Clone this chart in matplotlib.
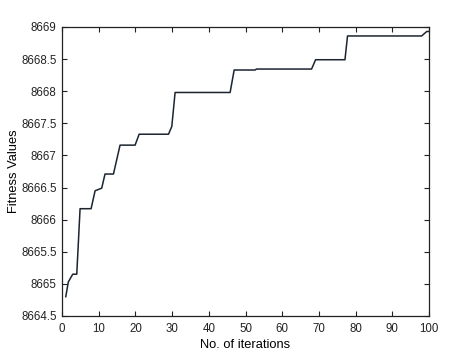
import matplotlib
matplotlib.use('Agg')

import matplotlib.pyplot as plt

# convergence curve (breakpoints of the step curve)
iterations = [1, 1.7, 2.9, 4.0, 4.9, 7.9, 9.0, 10.8, 11.7, 14.0, 15.8, 19.9,
              21.0, 29.0, 29.9, 30.8, 45.8, 46.9, 52.6, 53.0, 68.0, 69.1,
              77.1, 77.8, 98.0, 99.4, 100]
fitness = [8664.80, 8665.03, 8665.15, 8665.15, 8666.17, 8666.17, 8666.45,
           8666.49, 8666.71, 8666.71, 8667.16, 8667.16, 8667.33, 8667.33,
           8667.45, 8667.98, 8667.98, 8668.33, 8668.33, 8668.345, 8668.345,
           8668.49, 8668.49, 8668.86, 8668.86, 8668.93, 8668.93]

x_ticks = [0, 10, 20, 30, 40, 50, 60, 70, 80, 90, 100]
y_ticks = [8664.5, 8665, 8665.5, 8666, 8666.5, 8667, 8667.5, 8668, 8668.5, 8669]
y_tick_labels = ['8664.5', '8665', '8665.5', '8666', '8666.5', '8667',
                 '8667.5', '8668', '8668.5', '8669']

plt.rcParams['font.family'] = ['Liberation Sans', 'DejaVu Sans']

fig = plt.figure(figsize=(4.74, 3.55), dpi=100)
ax = fig.add_axes([0.131, 0.110, 0.774, 0.814])

ax.plot(iterations, fitness, color='#1c2430', linewidth=1.1)

ax.set_xlim(0, 100)
ax.set_ylim(8664.5, 8669)
ax.set_xticks(x_ticks)
ax.set_yticks(y_ticks)
ax.set_yticklabels(y_tick_labels)
ax.tick_params(direction='in', top=True, right=True, length=3.5,
               width=0.8, labelsize=8.3, colors='#222222')
ax.tick_params(axis='x', pad=5)
ax.tick_params(axis='y', pad=4)
for s in ax.spines.values():
    s.set_linewidth(0.9)
    s.set_color('#222222')

ax.set_xlabel('No. of iterations', fontsize=9.3, labelpad=3)
ax.set_ylabel('Fitness Values', fontsize=9.3, labelpad=1)

fig.savefig('out.png', dpi=100)
